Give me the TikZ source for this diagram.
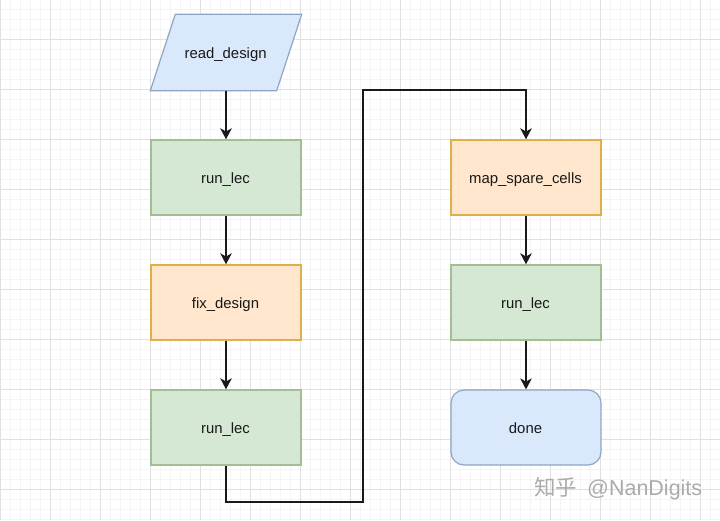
\documentclass[tikz,border=0pt]{standalone}
\usepackage{fontspec}
\setmainfont{Liberation Sans}
\newfontfamily\cjkwm{Noto Sans CJK SC}
\usetikzlibrary{arrows.meta}
\definecolor{gridmajor}{HTML}{E0E0E0}
\definecolor{gridminor}{HTML}{F4F4F4}
\definecolor{bluefill}{HTML}{DAE8FC}
\definecolor{blueline}{HTML}{8FA5C4}
\definecolor{greenfill}{HTML}{D5E8D4}
\definecolor{greenline}{HTML}{A3BE93}
\definecolor{orangefill}{HTML}{FFE6CC}
\definecolor{orangeline}{HTML}{DDB04A}
\definecolor{wmgray}{HTML}{ABABAB}
\tikzset{
  x=1pt,y=-1pt,
  flowbox/.style={draw,line width=1.4pt,minimum width=150pt,minimum height=75pt,inner sep=0pt,text height=11.6pt,text depth=0pt,font=\fontsize{14.9pt}{17pt}\selectfont,text=black!90},
  greenbox/.style={flowbox,fill=greenfill,draw=greenline},
  orangebox/.style={flowbox,fill=orangefill,draw=orangeline},
  bluebox/.style={flowbox,fill=bluefill,draw=blueline,line width=1.2pt},
  slantlabel/.style={flowbox,draw=none},
  slantshape/.style={fill=bluefill,draw=blueline,line width=1.2pt,line join=miter},
  endbox/.style={bluebox,rounded corners=13pt},
  link/.style={draw=black!90,line width=1.2pt,-{Stealth[length=11pt,width=11.5pt,inset=3.2pt]}},
  watermark/.style={text=wmgray,inner sep=0pt,anchor=base west}
}
\begin{document}
\begin{tikzpicture}
\useasboundingbox (0,0) rectangle (720,520);
\fill[white] (0,0) rectangle (720,520);
\foreach \g in {0,...,72} \draw[gridminor,line width=0.8pt] (\g*10+0.6,0) -- (\g*10+0.6,520);
\foreach \g in {0,...,52} \draw[gridminor,line width=0.8pt] (0,\g*10-0.6) -- (720,\g*10-0.6);
\foreach \g in {0,...,14} \draw[gridmajor,line width=0.9pt] (\g*50+0.6,0) -- (\g*50+0.6,520);
\foreach \g in {0,...,10} \draw[gridmajor,line width=0.9pt] (0,\g*50+39.4) -- (720,\g*50+39.4);

\node[slantlabel] (read) at (226,52.5) {\phantom{}};
\draw[slantshape] ([xshift=25pt]read.north west) -- (read.north east) -- ([xshift=-25pt]read.south east) -- (read.south west) -- cycle;
\node[slantlabel] (readtext) at (225.6,52.5) {read\_design};
\node[greenbox] (lecA) at (226,177.5) {\hspace{-1pt}run\_lec};
\node[orangebox] (fix) at (226,302.5) {\hspace{-1pt}fix\_design};
\node[greenbox] (lecB) at (226,427.5) {\hspace{-1pt}run\_lec};
\node[orangebox] (map) at (526,177.5) {\hspace{-1pt}map\_spare\_cells};
\node[greenbox] (lecC) at (526,302.5) {\hspace{-1pt}run\_lec};
\node[endbox] (done) at (526,427.5) {\hspace{-1pt}done};

\coordinate (turnA) at (lecB.south |- 0,502);
\coordinate (turnB) at (363,502);
\coordinate (turnC) at (363,90);
\coordinate (turnD) at (map.north |- 0,90);

\draw[link] (read.south) -- (lecA.north);
\draw[link] (lecA.south) -- (fix.north);
\draw[link] (fix.south) -- (lecB.north);
\draw[link] (lecB.south) -- (turnA) -- (turnB) -- (turnC) -- (turnD) -- (map.north);
\draw[link] (map.south) -- (lecC.north);
\draw[link] (lecC.south) -- (done.north);

\node[watermark,font=\cjkwm\fontsize{21.5pt}{24pt}\selectfont] (wma) at (534,495) {知乎};
\node[watermark,font=\fontsize{21.5pt}{24pt}\selectfont] (wmb) at (587,495) {@NanDigits};
\end{tikzpicture}
\end{document}
